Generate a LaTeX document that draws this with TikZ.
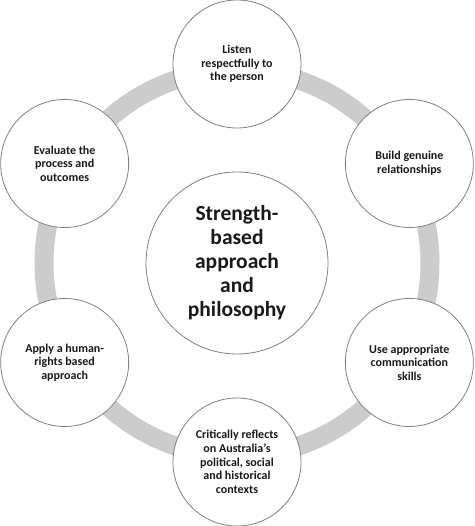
\documentclass[tikz,border=0pt]{standalone}
\usepackage{fontspec}
\setmainfont{Carlito}
\begin{document}
\begin{tikzpicture}[x=1pt,y=1pt,
  outer/.style={circle, draw=black!50, line width=0.8pt, fill=white, minimum size=128pt, inner sep=0pt, align=center, text=black!90, font=\bfseries\fontsize{12}{13.6}\selectfont},
  hub/.style={circle, draw=black!50, line width=0.8pt, fill=white, minimum size=182pt, inner sep=0pt, align=center, text=black!90, font=\bfseries\fontsize{21.5}{24}\selectfont},
  ringline/.style={draw=black!20, line width=19pt}]
\useasboundingbox (-237,-263) rectangle (237,263);
\draw[ringline] (0,0) circle[radius=193];
\node[hub] (c) at (0,0) {Strength-\\based\\approach\\and\\philosophy};
\node[outer] (n1) at (90:199) {Listen\\respectfully to\\the person};
\node[outer] (n2) at (30:199) {Build genuine\\relationships};
\node[outer] (n3) at (-30:199) {Use appropriate\\communication\\skills};
\node[outer] (n4) at (-90:199) {Critically reflects\\on Australia’s\\political, social\\and historical\\contexts};
\node[outer] (n5) at (-150:199) {Apply a human-\\rights based\\approach};
\node[outer] (n6) at (150:199) {Evaluate the\\process and\\outcomes};
\end{tikzpicture}
\end{document}
